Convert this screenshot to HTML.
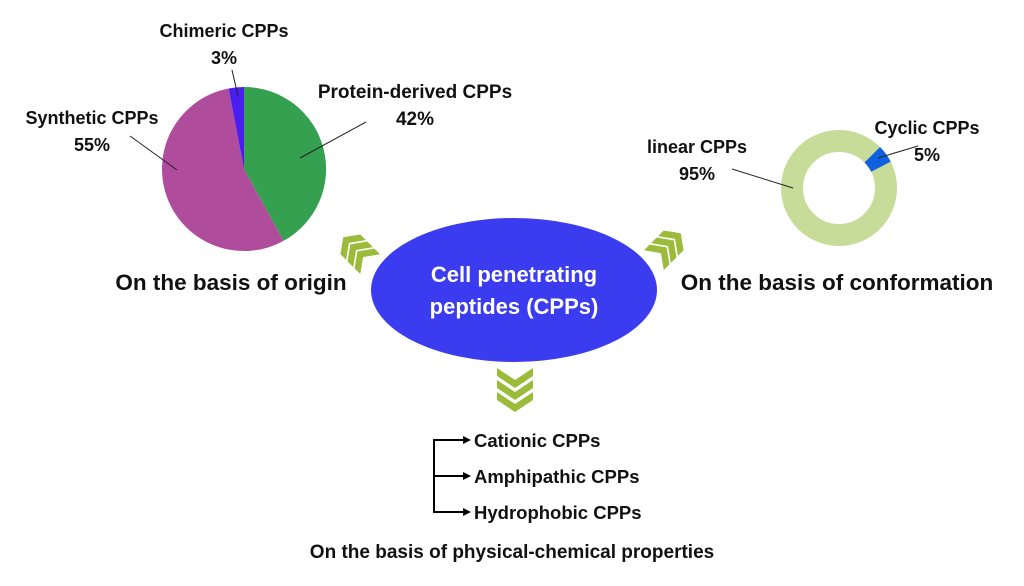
<!DOCTYPE html>
<html><head><meta charset="utf-8"><style>
html,body{margin:0;padding:0;background:#fff;}
svg{display:block;}
text{font-family:"Liberation Sans",sans-serif;font-weight:bold;fill:#111;}
</style></head><body>
<svg width="1024" height="586" viewBox="0 0 1024 586" xmlns="http://www.w3.org/2000/svg">
<!-- pie -->
<path d="M244,169 L244,87 A82,82 0 0 1 283.5,240.9 Z" fill="#34a050"/>
<path d="M244,169 L283.5,240.9 A82,82 0 1 1 228.6,88.5 Z" fill="#b04c9c"/>
<path d="M244,169 L228.6,88.5 A82,82 0 0 1 244,87 Z" fill="#4a1ef0"/>
<line x1="130" y1="136" x2="177" y2="170" stroke="#222" stroke-width="1"/>
<line x1="300" y1="158" x2="366" y2="122" stroke="#222" stroke-width="1"/>
<line x1="232" y1="70" x2="238" y2="96" stroke="#222" stroke-width="1"/>
<text x="224" y="37" font-size="18" text-anchor="middle">Chimeric CPPs</text>
<text x="224" y="64" font-size="18" text-anchor="middle">3%</text>
<text x="92" y="124" font-size="18" text-anchor="middle">Synthetic CPPs</text>
<text x="92" y="151" font-size="18" text-anchor="middle">55%</text>
<text x="415" y="98" font-size="19" text-anchor="middle">Protein-derived CPPs</text>
<text x="415" y="125" font-size="19" text-anchor="middle">42%</text>
<!-- donut -->
<circle cx="839" cy="188" r="47" fill="none" stroke="#c6dc98" stroke-width="22"/>
<path d="M880,147 A58,58 0 0 1 890.7,161.7 L871.1,171.7 A36,36 0 0 0 864.5,162.5 Z" fill="#1060e0"/>
<line x1="732" y1="169" x2="793" y2="188" stroke="#222" stroke-width="1"/>
<line x1="878" y1="158" x2="918" y2="146" stroke="#222" stroke-width="1"/>
<text x="927" y="134" font-size="18" text-anchor="middle">Cyclic CPPs</text>
<text x="927" y="161" font-size="18" text-anchor="middle">5%</text>
<text x="697" y="153" font-size="18" text-anchor="middle">linear CPPs</text>
<text x="697" y="180" font-size="18" text-anchor="middle">95%</text>
<!-- ellipse -->
<ellipse cx="514" cy="290" rx="143" ry="72" fill="#3b3bf0"/>
<text x="514" y="282" font-size="22" text-anchor="middle" style="fill:#fff">Cell penetrating</text>
<text x="514" y="314" font-size="22" text-anchor="middle" style="fill:#fff">peptides (CPPs)</text>
<!-- chevrons -->
<g fill="#9bbb3b">
 <g transform="translate(356,250) rotate(-45)">
  <path d="M-14,-8 L0,-18 L14,-8 L14,0 L0,-10 L-14,0 Z"/>
  <path d="M-14,2 L0,-8 L14,2 L14,10 L0,0 L-14,10 Z"/>
  <path d="M-14,12 L0,2 L14,12 L14,20 L0,10 L-14,20 Z"/>
 </g>
 <g transform="translate(668,246) rotate(45)">
  <path d="M-14,-8 L0,-18 L14,-8 L14,0 L0,-10 L-14,0 Z"/>
  <path d="M-14,2 L0,-8 L14,2 L14,10 L0,0 L-14,10 Z"/>
  <path d="M-14,12 L0,2 L14,12 L14,20 L0,10 L-14,20 Z"/>
 </g>
 <g transform="translate(515,390) rotate(180)">
  <path d="M-18,-10 L0,-22 L18,-10 L18,-2 L0,-14 L-18,-2 Z"/>
  <path d="M-18,2 L0,-10 L18,2 L18,10 L0,-2 L-18,10 Z"/>
  <path d="M-18,14 L0,2 L18,14 L18,22 L0,10 L-18,22 Z"/>
 </g>
</g>
<text x="231" y="290" font-size="22.5" text-anchor="middle">On the basis of origin</text>
<text x="837" y="290" font-size="22.5" text-anchor="middle">On the basis of conformation</text>
<!-- bracket -->
<g stroke="#000" stroke-width="2" fill="none">
 <path d="M464,440 L434,440 L434,512 L464,512"/>
 <line x1="434" y1="476" x2="464" y2="476"/>
</g>
<g fill="#000">
 <path d="M471,440 L463,436 L463,444 Z"/>
 <path d="M471,476 L463,472 L463,480 Z"/>
 <path d="M471,512 L463,508 L463,516 Z"/>
</g>
<text x="474" y="447" font-size="18.5">Cationic CPPs</text>
<text x="474" y="483" font-size="18.5">Amphipathic CPPs</text>
<text x="474" y="519" font-size="18.5">Hydrophobic CPPs</text>
<text x="512" y="558" font-size="19" text-anchor="middle">On the basis of physical-chemical properties</text>
</svg>
</body></html>
